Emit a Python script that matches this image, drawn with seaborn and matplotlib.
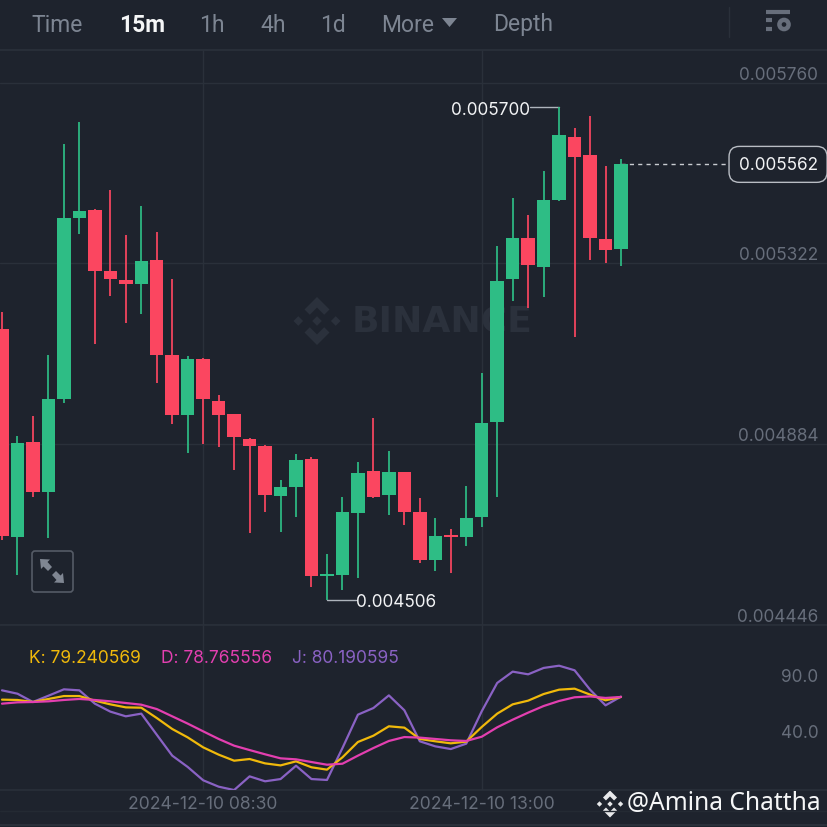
import matplotlib
matplotlib.use("Agg")
import matplotlib.pyplot as plt
from matplotlib.patches import FancyBboxPatch, Polygon, Circle
import pandas as pd
import seaborn as sns

# prices per 15m candle
opens = [0.005163, 0.004659, 0.004889, 0.004768, 0.004994, 0.005433, 0.005452, 0.005304, 0.005282, 0.005272,
         0.005331, 0.005100, 0.004955, 0.005091, 0.004989, 0.004957, 0.004897, 0.004880, 0.004758, 0.004780,
         0.004848, 0.004565, 0.004567, 0.004717, 0.004819, 0.004761, 0.004817, 0.004720, 0.004603, 0.004664,
         0.004659, 0.004708, 0.004938, 0.005285, 0.005384, 0.005314, 0.005476, 0.005629, 0.005585, 0.005382,
         0.005357]
closes = [0.004661, 0.004887, 0.004768, 0.004994, 0.005433, 0.005450, 0.005304, 0.005285, 0.005272, 0.005328,
          0.005100, 0.004955, 0.005091, 0.004994, 0.004955, 0.004902, 0.004880, 0.004761, 0.004780, 0.004846,
          0.004565, 0.004568, 0.004720, 0.004814, 0.004756, 0.004817, 0.004720, 0.004603, 0.004661, 0.004659,
          0.004705, 0.004935, 0.005280, 0.005384, 0.005319, 0.005476, 0.005632, 0.005581, 0.005384, 0.005355,
          0.005562]
highs = [0.005205, 0.004904, 0.004952, 0.005100, 0.005612, 0.005665, 0.005455, 0.005501, 0.005391, 0.005462,
         0.005399, 0.005285, 0.005098, 0.005093, 0.005003, 0.004957, 0.004899, 0.004882, 0.004797, 0.004860,
         0.004853, 0.004618, 0.004756, 0.004841, 0.004948, 0.004868, 0.004817, 0.004754, 0.004705, 0.004679,
         0.004783, 0.005057, 0.005365, 0.005481, 0.005440, 0.005547, 0.005700, 0.005651, 0.005680, 0.005559,
         0.005576]
lows = [0.004652, 0.004567, 0.004756, 0.004657, 0.004984, 0.005394, 0.005127, 0.005243, 0.005178, 0.005200,
        0.005032, 0.004933, 0.004863, 0.004885, 0.004877, 0.004822, 0.004669, 0.004720, 0.004671, 0.004708,
        0.004538, 0.004506, 0.004531, 0.004560, 0.004754, 0.004712, 0.004688, 0.004596, 0.004577, 0.004572,
        0.004637, 0.004683, 0.004756, 0.005231, 0.005214, 0.005241, 0.005474, 0.005144, 0.005331, 0.005323,
        0.005316]

# KDJ indicator
k_line = [67.7, 67.4, 65.6, 68.3, 70.9, 70.9, 66.8, 63.5, 60.8, 60.5, 51.3, 41.5, 34.0, 25.1, 18.6, 13.2, 14.7,
          10.8, 9.0, 12.6, 7.3, 5.2, 16.2, 29.9, 35.5, 43.9, 42.7, 32.6, 30.5, 28.7, 30.2, 43.3, 55.2, 63.5,
          66.8, 72.7, 76.6, 77.5, 72.2, 67.1, 70.1]
d_line = [64.1, 65.3, 65.6, 66.2, 67.4, 68.3, 67.4, 66.2, 64.7, 63.2, 59.3, 52.8, 46.3, 39.4, 32.6, 26.6, 22.7,
          18.9, 15.3, 14.4, 12.0, 9.6, 10.5, 17.7, 24.5, 30.8, 34.3, 33.8, 32.6, 31.4, 30.8, 34.6, 43.0, 49.8,
          56.1, 62.0, 66.5, 69.8, 70.6, 69.2, 70.1]
j_line = [76.0, 73.0, 65.6, 71.2, 76.9, 76.0, 64.1, 57.0, 52.8, 55.2, 36.4, 17.7, 7.6, -4.3, -10.0, -13.0, -0.8,
          -5.2, -3.2, 8.7, -3.2, -4.0, 24.5, 54.3, 60.2, 71.5, 58.2, 30.5, 26.0, 23.6, 28.4, 57.3, 82.6, 92.7,
          90.3, 96.0, 98.0, 93.9, 76.6, 62.6, 70.4]

price_ticks = [0.005760, 0.005322, 0.004884, 0.004446]
kdj_ticks = [90.0, 40.0]
time_positions = [13, 31]
time_labels = ["2024-12-10 08:30", "2024-12-10 13:00"]
tabs = ["Time", "15m", "1h", "4h", "1d", "More", "Depth"]

BG = "#1e232d"
GRID = "#2a303a"
GREEN = "#2ebd85"
RED = "#fb4660"
MUTED = "#676e7b"
TAB = "#7d8592"
K_COLOR = "#f0b90b"
D_COLOR = "#e33fb0"
J_COLOR = "#8a62c4"
FONT = "Inter"

sns.set_theme(style="dark")
plt.rcParams["font.family"] = [FONT, "DejaVu Sans"]

W = 828
x_left = -2 / 15.475
x_right = 826 / 15.475


def binance_logo(ax, cx, cy, r, color):
    top = [(0, 1), (0.52, 0.48), (0.3, 0.26), (0, 0.56), (-0.3, 0.26), (-0.52, 0.48)]
    bottom = [(x, -y) for x, y in top]
    shapes = [top, bottom]
    for ox in (-0.78, 0, 0.78):
        shapes.append([(ox, 0.2), (ox + 0.2, 0), (ox, -0.2), (ox - 0.2, 0)])
    for shape in shapes:
        ax.add_patch(Polygon([(cx + x * r, cy - y * r) for x, y in shape], closed=True, fc=color, ec="none"))


fig = plt.figure(figsize=(8.28, 8.28), dpi=100, facecolor=BG)

# overlay in pixel coordinates for the app furniture (tabs, icons, watermarks)
ui = fig.add_axes([0, 0, 1, 1], zorder=0)
ui.set_xlim(0, W)
ui.set_ylim(W, 0)
ui.axis("off")

ax = fig.add_axes([0, (W - 625.7) / W, 1, (625.7 - 50.7) / W], zorder=1, facecolor="none")
ax2 = fig.add_axes([0, (W - 790.7) / W, 1, (790.7 - 625.7) / W], zorder=1, facecolor="none")

# candles
x = list(range(len(opens)))
colors = [GREEN if c >= o else RED for o, c in zip(opens, closes)]
ax.vlines(x, lows, highs, colors=colors, linewidth=1.25, zorder=3)
ax.bar(x, [abs(c - o) for o, c in zip(opens, closes)], bottom=[min(o, c) for o, c in zip(opens, closes)],
       width=0.87, color=colors, linewidth=0, zorder=4)

ax.set_xlim(x_left, x_right)
ax.set_ylim(0.004446, 0.005840)
ax.set_xticks(time_positions)
ax.set_xticklabels([])
ax.set_yticks(price_ticks)
ax.set_yticklabels([f"{p:.6f}" for p in price_ticks])
ax.yaxis.tick_right()
ax.tick_params(axis="y", length=0, pad=-7.0, labelsize=12.4, labelcolor=MUTED)
ax.tick_params(axis="x", length=0)
for lab in ax.get_yticklabels():
    lab.set_ha("right")
    lab.set_va("bottom")
ax.grid(True, color=GRID, linewidth=1)
for side, spine in ax.spines.items():
    spine.set_visible(side == "top")
    spine.set_color(GRID)

# high / low callouts
i_high = highs.index(max(highs))
i_low = lows.index(min(lows))
ax.plot([i_high - 1.87, i_high], [highs[i_high], highs[i_high]], color="#aeb4bc", linewidth=1, zorder=2)
ax.text(i_high - 1.87, highs[i_high], f"{highs[i_high]:.6f}", color="#f2f3f5", fontsize=12.4, ha="right",
        va="center_baseline")
ax.plot([i_low, i_low + 1.87], [lows[i_low], lows[i_low]], color="#aeb4bc", linewidth=1, zorder=2)
ax.text(i_low + 1.87, lows[i_low], f"{lows[i_low]:.6f}", color="#f2f3f5", fontsize=12.4, ha="left",
        va="center_baseline")

# last price
last = closes[-1]
ax.plot([x[-1], 46.85], [last, last], color="#c9ccd1", linewidth=1, linestyle=(0, (3, 3)), zorder=2)
ax.text(50.15, last, f"{last:.6f}", color="#f2f3f5", fontsize=12.4, ha="center", va="center", zorder=6,
        bbox=dict(boxstyle="round,pad=0.55,rounding_size=0.6", fc=BG, ec="#b9bdc4", linewidth=1))

# KDJ
kdj = pd.DataFrame({
    "candle": x * 3,
    "value": j_line + k_line + d_line,
    "line": ["J"] * len(x) + ["K"] * len(x) + ["D"] * len(x),
})
sns.lineplot(data=kdj, x="candle", y="value", hue="line", hue_order=["J", "K", "D"],
             palette={"K": K_COLOR, "D": D_COLOR, "J": J_COLOR}, linewidth=1.6, legend=False,
             errorbar=None, ax=ax2, zorder=3)
ax2.set_xlim(x_left, x_right)
ax2.set_ylim(-12.7, 134.6)
ax2.set_xlabel("")
ax2.set_ylabel("")
ax2.set_xticks(time_positions)
ax2.set_xticklabels(time_labels)
ax2.set_yticks(kdj_ticks)
ax2.set_yticklabels([f"{v:.1f}" for v in kdj_ticks])
ax2.yaxis.tick_right()
ax2.tick_params(axis="y", length=0, pad=-7.0, labelsize=12.4, labelcolor=MUTED)
ax2.tick_params(axis="x", length=0, pad=3.5, labelsize=12.6, labelcolor=MUTED)
for lab in ax2.get_yticklabels():
    lab.set_ha("right")
ax2.grid(True, axis="x", color=GRID, linewidth=1)
ax2.grid(False, axis="y")
for side, spine in ax2.spines.items():
    spine.set_visible(side in ("top", "bottom"))
    spine.set_color(GRID)
    spine.set_linewidth(1.2)

ax2.text(0.035, 0.80, f"K: {79.240569:.6f}", transform=ax2.transAxes, color=K_COLOR, fontsize=12.5, va="center")
ax2.text(0.1945, 0.80, f"D: {78.765556:.6f}", transform=ax2.transAxes, color=D_COLOR, fontsize=12.5, va="center")
ax2.text(0.3525, 0.80, f"J: {80.190595:.6f}", transform=ax2.transAxes, color=J_COLOR, fontsize=12.5, va="center")

# tab bar
tab_x = [31, 119, 199, 260, 320, 381, 493]
for name, tx in zip(tabs, tab_x):
    active = name == "15m"
    ui.text(tx, 25, name, family="Roboto", color="#f5f6f7" if active else TAB, fontsize=16.5,
            fontweight="bold" if active else "normal", va="center", ha="left")
ui.add_patch(Polygon([(442, 19), (457, 19), (449.5, 28)], closed=True, fc=TAB, ec="none"))
ui.plot([729, 729], [8, 38], color=GRID, linewidth=1)

# settings icon
ui.plot([766, 790], [12.5, 12.5], color=MUTED, linewidth=3, solid_capstyle="butt")
ui.plot([766, 772], [20.5, 20.5], color=MUTED, linewidth=3, solid_capstyle="butt")
ui.plot([766, 772], [29.5, 29.5], color=MUTED, linewidth=3, solid_capstyle="butt")
ui.add_patch(Circle((784, 25.5), 4.6, fc="none", ec=MUTED, linewidth=3.2))

# faint lines at the foot
ui.plot([0, W], [812, 812], color="#242a33", linewidth=1)
ui.plot([0, W], [826, 826], color=GRID, linewidth=1.5)

# expand button
ui.add_patch(FancyBboxPatch((32, 552), 41, 41, boxstyle="round,pad=0,rounding_size=3", fc=BG, ec="#555b66", linewidth=1.2))
arrow = [(40, 560), (50, 560.5), (47.5, 563), (52, 568), (48, 572), (43.5, 567.5), (41, 570)]
ui.add_patch(Polygon(arrow, closed=True, fc="#7f8692", ec="none"))
ui.add_patch(Polygon([(104 - px, 1144 - py) for px, py in arrow], closed=True, fc="#7f8692", ec="none"))

# background watermark
binance_logo(ui, 317, 322, 24, "#2b313c")
ui.text(352, 322, "BINANCE", family="DejaVu Sans", color="#2b313c", fontsize=26, fontweight="bold", va="center", ha="left")

# credit
binance_logo(ui, 610, 805, 13.5, "#e8e9eb")
ui.text(627, 804, "@Amina Chattha", family="Noto Sans", color="#f5f6f7", fontsize=17.7, va="center", ha="left", zorder=8)

fig.savefig("out.png", dpi=100, facecolor=BG)
